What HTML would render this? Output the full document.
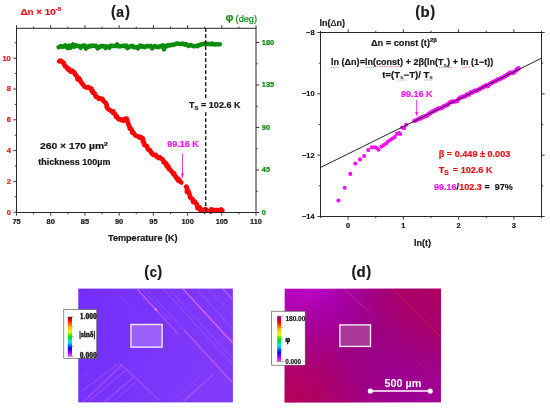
<!DOCTYPE html>
<html><head><meta charset="utf-8"><title>Figure</title>
<style>
html,body{margin:0;padding:0;background:#fff;}
svg{display:block}
text{font-family:"Liberation Sans", sans-serif;font-weight:bold;}
.ax{stroke:#262626;stroke-width:1;fill:none;stroke-linecap:butt}
.tk{stroke:#262626;stroke-width:0.9;fill:none}
.r{fill:#e8141c;stroke:#e8141c} .g{fill:#0f8a0f;stroke:#0f8a0f} .k{fill:#1a1a1a;stroke:#1a1a1a} .m{fill:#f218f2;stroke:#f218f2}
text,tspan{stroke-width:0.22px;stroke-linejoin:round}
.ser{font-family:"Liberation Serif", serif;}
</style></head><body>
<svg width="550" height="408" viewBox="0 0 550 408">
<defs>
<linearGradient id="rb" x1="0" y1="0" x2="0" y2="1">
<stop offset="0" stop-color="#7a0000"/><stop offset="0.08" stop-color="#ff0000"/><stop offset="0.25" stop-color="#ffb000"/><stop offset="0.38" stop-color="#e0ff00"/><stop offset="0.5" stop-color="#00e000"/><stop offset="0.65" stop-color="#00e0ff"/><stop offset="0.8" stop-color="#0000ff"/><stop offset="0.92" stop-color="#b000ff"/><stop offset="1" stop-color="#ff60ff"/>
</linearGradient>
<linearGradient id="cg" x1="0" y1="0" x2="1" y2="0.3"><stop offset="0" stop-color="#722dfc"/><stop offset="0.5" stop-color="#7934fb"/><stop offset="1" stop-color="#813afa"/></linearGradient>
<linearGradient id="rb2" x1="0" y1="0" x2="0" y2="1">
<stop offset="0" stop-color="#7a007a"/><stop offset="0.07" stop-color="#c00040"/><stop offset="0.14" stop-color="#ff0000"/><stop offset="0.28" stop-color="#ffb000"/><stop offset="0.4" stop-color="#e0ff00"/><stop offset="0.52" stop-color="#00e000"/><stop offset="0.66" stop-color="#00e0ff"/><stop offset="0.8" stop-color="#0000ff"/><stop offset="0.92" stop-color="#b000ff"/><stop offset="1" stop-color="#ff40ff"/>
</linearGradient>
<linearGradient id="dg" gradientUnits="userSpaceOnUse" x1="285" y1="289" x2="415" y2="428">
<stop offset="0" stop-color="#b200bc"/><stop offset="0.1" stop-color="#b804c4"/><stop offset="0.24" stop-color="#a800ac"/><stop offset="0.5" stop-color="#96008c"/><stop offset="1" stop-color="#a00098"/>
</linearGradient>
<radialGradient id="dr1" gradientUnits="userSpaceOnUse" cx="270" cy="420" r="135">
<stop offset="0" stop-color="#bc0050" stop-opacity="1"/><stop offset="0.45" stop-color="#b4005e" stop-opacity="0.78"/><stop offset="1" stop-color="#a00080" stop-opacity="0"/>
</radialGradient>
<radialGradient id="dr2" gradientUnits="userSpaceOnUse" cx="452" cy="274" r="128">
<stop offset="0" stop-color="#b40058" stop-opacity="1"/><stop offset="0.5" stop-color="#a80066" stop-opacity="0.78"/><stop offset="1" stop-color="#a00080" stop-opacity="0"/>
</radialGradient>
<clipPath id="cc"><rect x="78.3" y="288.6" width="154.6" height="113.8"/></clipPath>
<clipPath id="cd"><rect x="284.7" y="288.7" width="156.2" height="113.7"/></clipPath>
<filter id="bl" x="-5%" y="-5%" width="110%" height="110%"><feGaussianBlur stdDeviation="0.55"/></filter>
</defs>
<rect width="550" height="408" fill="#fff"/>

<g id="plotA">
<polyline fill="none" stroke="#0c8c0c" stroke-width="4.5" stroke-linecap="round" stroke-linejoin="round" points="58.6,47.3 59.9,46.6 61.2,46.1 62.5,47.0 63.8,46.4 65.1,45.3 66.4,46.8 67.7,48.0 69.0,45.7 70.3,47.9 71.6,45.9 72.9,44.5 74.2,46.7 75.5,45.2 76.8,45.7 78.1,46.1 79.4,45.9 80.7,47.8 82.0,46.2 83.3,45.5 84.6,45.5 85.9,48.6 87.2,46.6 88.5,47.0 89.8,45.7 91.1,46.3 92.4,45.6 93.7,45.7 95.0,45.7 96.3,46.0 97.6,48.3 98.9,47.4 100.2,46.9 101.5,45.9 102.8,45.9 104.1,46.2 105.4,48.1 106.7,46.4 108.0,46.8 109.3,47.8 110.6,45.7 111.9,45.7 113.2,46.1 114.5,46.0 115.8,46.1 117.1,44.3 118.4,46.2 119.7,46.4 121.0,46.2 122.3,46.1 123.6,45.7 124.9,46.3 126.2,45.6 127.5,48.1 128.8,47.2 130.1,46.2 131.4,46.4 132.7,45.9 134.0,47.4 135.3,47.1 136.6,47.2 137.9,48.3 139.2,46.3 140.5,45.5 141.8,46.7 143.1,46.2 144.4,47.2 145.7,46.6 147.0,45.9 148.3,46.3 149.6,46.1 150.9,46.0 152.2,48.3 153.5,47.0 154.8,46.1 156.1,46.5 157.4,47.1 158.7,47.0 160.0,46.2 161.3,46.2 162.6,45.3 163.9,49.4 165.2,45.8 166.5,46.3 167.8,45.2 169.1,45.6 170.4,45.0 171.7,44.8 173.0,44.9 174.3,44.5 175.6,44.1 176.9,43.5 178.2,43.6 179.5,43.9 180.8,44.1 182.1,43.6 183.4,43.8 184.7,44.7 186.0,44.1 187.3,45.0 188.6,46.0 189.9,45.1 191.2,45.1 192.5,45.9 193.8,46.2 195.1,46.1 196.4,46.0 197.7,46.0 199.0,44.9 200.3,45.0 201.6,44.3 202.9,44.0 204.2,43.6 205.5,44.2 206.8,44.1 208.1,43.8 209.4,44.1 210.7,44.3 212.0,43.6 213.3,44.3 214.6,44.5 215.9,44.2 217.2,44.3 218.5,44.4 219.8,44.3"/>
<polyline fill="none" stroke="#fa0505" stroke-width="4.7" stroke-linecap="round" stroke-linejoin="round" points="59.2,61.3 59.6,60.9 60.9,60.7 62.1,61.8 63.6,62.7 63.9,64.4 64.6,64.9 64.7,66.0 66.3,66.9 66.8,67.3 67.7,69.3 68.6,68.7 70.6,71.6 70.9,71.2 72.2,70.7 73.3,72.3 74.4,72.4 75.3,74.8 76.2,75.2 77.3,77.2 77.6,79.3 78.8,78.0 79.1,80.0 79.7,79.0 80.5,81.7 81.1,81.9 81.8,83.6 82.6,84.1 82.9,84.3 84.4,86.5 85.1,87.0 86.8,87.6 88.0,87.1 88.7,87.2 89.9,88.2 91.4,88.6 91.5,90.7 92.6,90.7 92.8,92.8 94.5,93.1 95.5,95.0 95.2,95.2 95.9,96.7 96.2,96.8 98.5,97.6 98.7,98.8 100.8,98.6 101.4,98.8 102.3,98.8 103.5,101.1 104.9,102.2 105.5,102.5 105.9,103.7 106.6,104.8 106.8,107.4 107.3,107.3 107.2,108.0 109.1,109.7 110.2,110.3 111.5,111.2 113.3,111.4 113.0,113.0 114.1,113.0 115.3,114.5 115.8,115.7 116.0,116.7 116.8,116.4 118.6,119.4 119.3,119.4 121.2,119.3 121.1,120.1 123.4,120.7 124.4,119.1 125.0,118.7 126.7,118.6 127.1,120.5 127.4,121.5 128.3,123.5 128.6,125.1 129.1,125.2 129.3,126.0 129.8,128.6 130.3,129.1 130.9,128.7 131.5,129.9 132.8,131.6 132.1,132.6 133.5,132.9 133.9,133.1 135.4,135.7 136.7,135.9 137.5,136.0 138.9,137.1 139.9,137.6 140.6,137.0 142.8,138.2 143.2,139.4 142.7,141.4 143.7,142.2 144.1,142.6 144.2,144.9 144.6,145.1 146.0,145.6 147.2,146.4 147.5,148.2 148.3,149.6 149.3,150.1 150.1,150.1 150.7,152.1 152.1,153.9 152.4,153.3 153.4,154.9 155.3,155.6 156.0,155.0 156.7,156.8 158.1,157.0 158.7,158.0 159.9,157.4 161.2,158.6 162.3,159.1 163.6,160.9 163.6,162.5 164.6,162.1 165.8,162.9 166.3,165.5 167.3,165.0 167.5,167.0 168.7,167.0 168.8,168.8 170.8,170.4 171.6,171.6 172.8,172.4 172.9,172.9 173.4,174.1 174.2,173.5 174.6,175.2 175.7,176.8 176.5,177.0 176.7,178.6 177.4,178.4 178.2,180.5 179.1,179.4 180.1,181.6 181.3,182.4"/>
<polyline fill="none" stroke="#fa0505" stroke-width="4.7" stroke-linecap="round" stroke-linejoin="round" points="186.0,186.8 186.4,186.6 187.1,188.7 187.1,190.1 186.8,191.9 188.3,190.9 189.1,193.3 189.7,195.2 190.1,195.9 190.0,197.1 190.7,197.9 191.7,198.5 192.7,199.5 193.2,202.0 194.7,201.4 194.8,202.1 196.3,203.7 196.4,203.6 197.1,205.5 197.5,208.1 198.6,207.0 198.7,207.9 199.7,207.5 199.9,209.5 201.3,210.1 202.9,209.9 204.3,211.0 205.3,209.1 206.6,210.0"/>
<polyline fill="none" stroke="#fa0505" stroke-width="4.7" stroke-linecap="round" stroke-linejoin="round" points="210.4,211.6 211.1,209.3 212.5,210.7 213.7,209.9 215.1,210.3 216.8,210.0 217.5,210.3 219.8,210.4 220.9,209.4 222.3,210.4"/>
<line x1="205.7" y1="28.3" x2="205.7" y2="212.5" stroke="#1a1a1a" stroke-width="1.4" stroke-dasharray="3.8 2.2"/>
<rect x="188" y="99" width="54" height="12.5" fill="#fff"/>
<rect class="ax" x="16.5" y="28.3" width="239.5" height="184.2"/>
<path class="tk" d="M16.50 212.5v3.2M16.50 28.3v-3.2M33.61 212.5v1.7M33.61 28.3v-1.7M50.71 212.5v3.2M50.71 28.3v-3.2M67.82 212.5v1.7M67.82 28.3v-1.7M84.93 212.5v3.2M84.93 28.3v-3.2M102.04 212.5v1.7M102.04 28.3v-1.7M119.14 212.5v3.2M119.14 28.3v-3.2M136.25 212.5v1.7M136.25 28.3v-1.7M153.36 212.5v3.2M153.36 28.3v-3.2M170.46 212.5v1.7M170.46 28.3v-1.7M187.57 212.5v3.2M187.57 28.3v-3.2M204.68 212.5v1.7M204.68 28.3v-1.7M221.79 212.5v3.2M221.79 28.3v-3.2M238.89 212.5v1.7M238.89 28.3v-1.7M256.00 212.5v3.2M256.00 28.3v-3.2M16.5 212.20h-3.2M16.5 196.80h-1.7M16.5 181.40h-3.2M16.5 166.00h-1.7M16.5 150.60h-3.2M16.5 135.20h-1.7M16.5 119.80h-3.2M16.5 104.40h-1.7M16.5 89.00h-3.2M16.5 73.60h-1.7M16.5 58.20h-3.2M16.5 42.80h-1.7M256 212.50h3.2M256 191.25h1.7M256 170.00h3.2M256 148.75h1.7M256 127.50h3.2M256 106.25h1.7M256 85.00h3.2M256 63.75h1.7M256 42.50h3.2"/>
<text class="k" x="16.5" y="224" font-size="7.4" text-anchor="middle">75</text>
<text class="k" x="50.7" y="224" font-size="7.4" text-anchor="middle">80</text>
<text class="k" x="84.9" y="224" font-size="7.4" text-anchor="middle">85</text>
<text class="k" x="119.1" y="224" font-size="7.4" text-anchor="middle">90</text>
<text class="k" x="153.4" y="224" font-size="7.4" text-anchor="middle">95</text>
<text class="k" x="187.6" y="224" font-size="7.4" text-anchor="middle">100</text>
<text class="k" x="221.8" y="224" font-size="7.4" text-anchor="middle">105</text>
<text class="k" x="256.0" y="224" font-size="7.4" text-anchor="middle">110</text>
<text class="r" x="10.8" y="214.5" font-size="7.5" text-anchor="end">0</text>
<text class="r" x="10.8" y="183.7" font-size="7.5" text-anchor="end">2</text>
<text class="r" x="10.8" y="152.9" font-size="7.5" text-anchor="end">4</text>
<text class="r" x="10.8" y="122.1" font-size="7.5" text-anchor="end">6</text>
<text class="r" x="10.8" y="91.3" font-size="7.5" text-anchor="end">8</text>
<text class="r" x="10.8" y="60.5" font-size="7.5" text-anchor="end">10</text>
<text class="g" x="261.8" y="214.8" font-size="7.4">0</text>
<text class="g" x="261.8" y="172.3" font-size="7.4">45</text>
<text class="g" x="261.8" y="129.8" font-size="7.4">90</text>
<text class="g" x="261.8" y="87.3" font-size="7.4">135</text>
<text class="g" x="261.8" y="44.8" font-size="7.4">180</text>
<text class="k" x="108" y="241" font-size="9.1" textLength="69.6" lengthAdjust="spacingAndGlyphs">Temperature (K)</text>
<text class="r" x="20.4" y="14.8" font-size="9.4" textLength="41" lengthAdjust="spacingAndGlyphs">Δn × 10<tspan font-size="6" dy="-3.6">-5</tspan></text>
<text class="k" x="110.9" y="17.0" font-size="16.6" textLength="4.9" lengthAdjust="spacingAndGlyphs">(</text><text class="k" x="116.15" y="16.9" font-size="15" textLength="7.7" lengthAdjust="spacingAndGlyphs">a</text><text class="k" x="124.9" y="17.0" font-size="16.6" textLength="4.9" lengthAdjust="spacingAndGlyphs">)</text>
<text class="g" x="225.4" y="21.4" font-size="11">φ</text><text class="g" x="235.6" y="21.6" font-size="9.2" font-weight="normal" style="font-weight:normal">(deg)</text>
<text class="k" x="189.1" y="108.2" font-size="9">T<tspan font-size="6" dy="1.8">S</tspan><tspan dy="-1.8"> = 102.6 K</tspan></text>
<text class="m" x="183" y="146.6" font-size="9" text-anchor="middle">99.16 K</text>
<path d="M182.5 153.3V175" stroke="#e636c4" stroke-width="0.9" fill="none"/><path d="M180.8 173.4L182.5 178.3L184.2 173.4Z" fill="#e636c4"/>
<text class="k" x="40" y="149.2" font-size="9.2" textLength="67.8" lengthAdjust="spacingAndGlyphs">260 × 170 µm<tspan font-size="6" dy="-3.6">2</tspan></text>
<text class="k" x="38.2" y="165" font-size="9">thickness 100µm</text>
</g>
<g id="plotB">
<g fill="#fa0efa"><circle cx="338.4" cy="200.5" r="2.05"/><circle cx="344.6" cy="187.7" r="2.05"/><circle cx="350.3" cy="173.9" r="2.05"/><circle cx="355.3" cy="163.6" r="2.05"/><circle cx="360.0" cy="159.4" r="2.05"/><circle cx="364.1" cy="156.1" r="2.05"/><circle cx="368.2" cy="150.1" r="2.05"/><circle cx="371.9" cy="147.4" r="2.05"/><circle cx="374.9" cy="147.2" r="2.05"/><circle cx="376.8" cy="148.1" r="2.05"/><circle cx="378.5" cy="149.8" r="2.05"/><circle cx="381.5" cy="146.6" r="2.05"/><circle cx="383.7" cy="145.1" r="2.05"/><circle cx="385.9" cy="143.7" r="2.05"/><circle cx="388.1" cy="141.6" r="2.05"/><circle cx="390.3" cy="140.0" r="2.05"/><circle cx="392.5" cy="138.5" r="2.05"/><circle cx="394.7" cy="137.1" r="2.05"/><circle cx="396.9" cy="133.9" r="2.05"/><circle cx="399.1" cy="133.0" r="2.05"/><circle cx="400.3" cy="134.0" r="2.05"/><circle cx="402.1" cy="127.6" r="2.05"/><circle cx="404.3" cy="128.1" r="2.05"/><circle cx="406.2" cy="124.7" r="2.05"/><circle cx="414.5" cy="121.0" r="2.35"/><circle cx="416.6" cy="120.1" r="2.35"/><circle cx="418.7" cy="118.9" r="2.35"/><circle cx="420.9" cy="118.2" r="2.35"/><circle cx="422.6" cy="117.1" r="2.35"/><circle cx="424.6" cy="116.3" r="2.35"/><circle cx="426.5" cy="115.9" r="2.35"/><circle cx="428.4" cy="114.3" r="2.35"/><circle cx="430.3" cy="113.1" r="2.35"/><circle cx="432.1" cy="111.7" r="2.35"/><circle cx="433.9" cy="111.1" r="2.35"/><circle cx="435.9" cy="109.9" r="2.35"/><circle cx="438.0" cy="108.7" r="2.35"/><circle cx="439.6" cy="108.5" r="2.35"/><circle cx="441.7" cy="107.9" r="2.35"/><circle cx="443.8" cy="106.3" r="2.35"/><circle cx="445.8" cy="105.6" r="2.35"/><circle cx="447.7" cy="104.7" r="2.35"/><circle cx="449.7" cy="102.5" r="2.35"/><circle cx="451.5" cy="101.9" r="2.35"/><circle cx="453.2" cy="101.6" r="2.35"/><circle cx="455.2" cy="101.5" r="2.35"/><circle cx="457.2" cy="100.9" r="2.35"/><circle cx="459.0" cy="98.5" r="2.35"/><circle cx="461.1" cy="97.4" r="2.35"/><circle cx="463.2" cy="96.6" r="2.35"/><circle cx="465.1" cy="96.5" r="2.35"/><circle cx="466.8" cy="94.5" r="2.35"/><circle cx="468.9" cy="94.6" r="2.35"/><circle cx="470.9" cy="92.3" r="2.35"/><circle cx="472.7" cy="92.3" r="2.35"/><circle cx="474.6" cy="90.8" r="2.35"/><circle cx="476.6" cy="90.7" r="2.35"/><circle cx="478.8" cy="89.6" r="2.35"/><circle cx="481.0" cy="88.3" r="2.35"/><circle cx="482.7" cy="87.4" r="2.35"/><circle cx="484.6" cy="86.3" r="2.35"/><circle cx="486.2" cy="85.3" r="2.35"/><circle cx="487.9" cy="86.1" r="2.35"/><circle cx="490.1" cy="83.8" r="2.35"/><circle cx="491.9" cy="82.8" r="2.35"/><circle cx="493.5" cy="81.8" r="2.35"/><circle cx="495.6" cy="81.2" r="2.35"/><circle cx="497.5" cy="79.5" r="2.35"/><circle cx="499.3" cy="79.3" r="2.35"/><circle cx="501.3" cy="78.2" r="2.35"/><circle cx="503.5" cy="77.2" r="2.35"/><circle cx="505.2" cy="76.0" r="2.35"/><circle cx="507.2" cy="74.9" r="2.35"/><circle cx="509.0" cy="73.7" r="2.35"/><circle cx="510.8" cy="72.7" r="2.35"/><circle cx="512.7" cy="73.0" r="2.35"/><circle cx="514.6" cy="71.8" r="2.35"/><circle cx="516.7" cy="69.7" r="2.35"/><circle cx="518.6" cy="68.4" r="2.35"/></g>
<line x1="320.5" y1="167.5" x2="541.5" y2="58.2" stroke="#161616" stroke-width="0.95"/>
<rect class="ax" x="320.5" y="32.5" width="221.0" height="184.0"/>
<path class="tk" d="M320.50 216.5v1.7M320.50 32.5v-1.7M348.12 216.5v3.2M348.12 32.5v-3.2M375.75 216.5v1.7M375.75 32.5v-1.7M403.38 216.5v3.2M403.38 32.5v-3.2M431.00 216.5v1.7M431.00 32.5v-1.7M458.62 216.5v3.2M458.62 32.5v-3.2M486.25 216.5v1.7M486.25 32.5v-1.7M513.88 216.5v3.2M513.88 32.5v-3.2M541.50 216.5v1.7M541.50 32.5v-1.7M320.5 32.50h-3.2M541.5 32.50h3.2M320.5 63.17h-1.7M541.5 63.17h1.7M320.5 93.83h-3.2M541.5 93.83h3.2M320.5 124.50h-1.7M541.5 124.50h1.7M320.5 155.17h-3.2M541.5 155.17h3.2M320.5 185.83h-1.7M541.5 185.83h1.7M320.5 216.50h-3.2M541.5 216.50h3.2"/>
<text class="k" x="348.1" y="228.3" font-size="7.4" text-anchor="middle">0</text>
<text class="k" x="403.4" y="228.3" font-size="7.4" text-anchor="middle">1</text>
<text class="k" x="458.6" y="228.3" font-size="7.4" text-anchor="middle">2</text>
<text class="k" x="513.9" y="228.3" font-size="7.4" text-anchor="middle">3</text>
<text class="k" x="314.5" y="35.0" font-size="7.4" text-anchor="end">−8</text>
<text class="k" x="314.5" y="96.3" font-size="7.4" text-anchor="end">−10</text>
<text class="k" x="314.5" y="157.7" font-size="7.4" text-anchor="end">−12</text>
<text class="k" x="314.5" y="219.0" font-size="7.4" text-anchor="end">−14</text>
<text class="k" x="422.4" y="246" font-size="9" text-anchor="middle">ln(t)</text>
<text class="k" x="319.6" y="25.6" font-size="9">ln(<tspan font-weight="normal">Δ</tspan>n)</text>
<text class="k" x="415.2" y="17.0" font-size="16.6" textLength="4.9" lengthAdjust="spacingAndGlyphs">(</text><text class="k" x="420.4" y="16.9" font-size="15">b</text><text class="k" x="430.3" y="17.0" font-size="16.6" textLength="4.9" lengthAdjust="spacingAndGlyphs">)</text>
<text class="k" x="370.9" y="45.6" font-size="9" textLength="66" lengthAdjust="spacingAndGlyphs">Δn = const (t)<tspan font-size="5.8" dy="-3.4">2β</tspan></text>
<text class="k" x="331" y="65.2" font-size="9" textLength="162.4" lengthAdjust="spacingAndGlyphs">ln (Δn)=ln(const) + 2β(ln(T<tspan font-size="6.2" dy="1.6" style="stroke-width:0">s</tspan><tspan dy="-1.6">) + ln (1−t))</tspan></text>
<text class="k" x="382.3" y="77.6" font-size="9" textLength="50.6" lengthAdjust="spacingAndGlyphs">t=(T<tspan font-size="6.2" dy="1.6" style="stroke-width:0">s</tspan><tspan dy="-1.6">−T)/ T</tspan><tspan font-size="6.2" dy="1.6" style="stroke-width:0">s</tspan></text>
<line x1="331" y1="67.3" x2="339" y2="67.3" stroke="#f05050" stroke-width="0.8" stroke-dasharray="1 0.8"/>
<line x1="365.5" y1="67.3" x2="374" y2="67.3" stroke="#f05050" stroke-width="0.8" stroke-dasharray="1 0.8"/>
<line x1="375" y1="66.6" x2="402" y2="66.6" stroke="#f05050" stroke-width="0.8" stroke-dasharray="1 0.8"/>
<line x1="439" y1="67.6" x2="452" y2="67.6" stroke="#f05050" stroke-width="0.8" stroke-dasharray="1 0.8"/>
<line x1="462" y1="67.3" x2="470" y2="67.3" stroke="#f05050" stroke-width="0.8" stroke-dasharray="1 0.8"/>
<line x1="398" y1="80" x2="407" y2="80" stroke="#f05050" stroke-width="0.8" stroke-dasharray="1 0.8"/>
<line x1="424" y1="80" x2="433" y2="80" stroke="#f05050" stroke-width="0.8" stroke-dasharray="1 0.8"/>
<text class="m" x="416.8" y="96.8" font-size="9" text-anchor="middle">99.16 K</text>
<path d="M416.7 100V114" stroke="#f218f2" stroke-width="0.9" fill="none"/><path d="M415.1 112L416.7 116.6L418.3 112Z" fill="#f218f2"/>
<text class="r" x="438.8" y="157" font-size="9.1">β = 0.449 ± 0.003</text>
<text class="r" x="438.8" y="173" font-size="9.1" xml:space="preserve">T<tspan font-size="6.6" dy="1.8">S</tspan><tspan dy="-1.8" x="452.8">= 102.6 K</tspan></text>
<text x="434" y="190.4" font-size="9" xml:space="preserve"><tspan class="m">99.16</tspan><tspan class="k">/</tspan><tspan class="r" dx="0.3">102.3</tspan><tspan class="k" x="484.6">=</tspan><tspan class="k" x="494.8">97%</tspan></text>
</g>
<g id="imgC">
<text class="k" x="144.3" y="277.0" font-size="16.6" textLength="4.9" lengthAdjust="spacingAndGlyphs">(</text><text class="k" x="149.7" y="276.9" font-size="15" textLength="7.1" lengthAdjust="spacingAndGlyphs">c</text><text class="k" x="157.2" y="277.0" font-size="16.6" textLength="4.9" lengthAdjust="spacingAndGlyphs">)</text>
<rect x="78.3" y="288.6" width="154.6" height="113.8" fill="url(#cg)"/>
<g clip-path="url(#cc)" filter="url(#bl)" fill="none" stroke-linecap="round">
<line x1="136.6" y1="288.6" x2="158.1" y2="312" stroke="#e468ee" stroke-width="1.3" stroke-opacity="0.75"/>
<line x1="158.06788990825686" y1="312" x2="178.3" y2="334" stroke="#d868f0" stroke-width="1.2" stroke-opacity="0.45"/>
<circle cx="155.7" cy="309.6" r="1.4" fill="#f488f0" fill-opacity="0.7" stroke="none"/>
<line x1="146.2" y1="288.6" x2="184.2" y2="330" stroke="#c470fa" stroke-width="1.0" stroke-opacity="0.35"/>
<line x1="184.18165137614676" y1="330" x2="233.7" y2="384" stroke="#e068f0" stroke-width="1.2" stroke-opacity="0.6"/>
<line x1="182.7" y1="288.6" x2="287.7" y2="403" stroke="#f070f0" stroke-width="1.4" stroke-opacity="0.8"/>
<line x1="141.6" y1="288.6" x2="170.4" y2="320" stroke="#c070ff" stroke-width="1.0" stroke-opacity="0.4"/>
<line x1="162.8" y1="288.6" x2="267.8" y2="403" stroke="#c070ff" stroke-width="1.0" stroke-opacity="0.4"/>
<line x1="168.5" y1="288.6" x2="273.5" y2="403" stroke="#b070ff" stroke-width="1.0" stroke-opacity="0.35"/>
<line x1="196" y1="288.6" x2="301.0" y2="403" stroke="#c070ff" stroke-width="1.0" stroke-opacity="0.4"/>
<line x1="208" y1="288.6" x2="313.0" y2="403" stroke="#b070ff" stroke-width="1.0" stroke-opacity="0.35"/>
<line x1="222.5" y1="288.6" x2="327.5" y2="403" stroke="#e070f0" stroke-width="1.2" stroke-opacity="0.65"/>
<line x1="116.6" y1="291.9" x2="150" y2="330" stroke="#9860ff" stroke-width="1.0" stroke-opacity="0.3"/>
<line x1="119.6" y1="363.4" x2="160.3" y2="401.2" stroke="#b868f8" stroke-width="1.1" stroke-opacity="0.5"/>
<line x1="126.9" y1="369.3" x2="150" y2="391" stroke="#a860f8" stroke-width="1.0" stroke-opacity="0.35"/>
<line x1="154.5" y1="351.8" x2="172" y2="369" stroke="#a060f8" stroke-width="1.0" stroke-opacity="0.3"/>
<line x1="81.8" y1="391" x2="116.7" y2="364.9" stroke="#c864f4" stroke-width="1.1" stroke-opacity="0.4"/>
<line x1="82.6" y1="402.4" x2="122" y2="365" stroke="#d868f0" stroke-width="1.2" stroke-opacity="0.5"/>
<line x1="89.1" y1="401.2" x2="126.9" y2="369.3" stroke="#c864f4" stroke-width="1.1" stroke-opacity="0.4"/>
<line x1="105" y1="401.2" x2="132.7" y2="378" stroke="#d868f0" stroke-width="1.2" stroke-opacity="0.45"/>
<line x1="112.4" y1="402.4" x2="136" y2="382" stroke="#b860f8" stroke-width="1.0" stroke-opacity="0.45"/>
<line x1="79" y1="381" x2="92" y2="370" stroke="#a860f8" stroke-width="1.0" stroke-opacity="0.3"/>
<line x1="183.6" y1="401.2" x2="212.6" y2="375" stroke="#c868f0" stroke-width="1.2" stroke-opacity="0.55"/>
<line x1="170" y1="403" x2="200" y2="376" stroke="#a860f8" stroke-width="1.0" stroke-opacity="0.3"/>
</g>
<rect x="131" y="324.5" width="31.1" height="22.6" fill="#9b5ffc" stroke="#f3e8fc" stroke-width="1.4"/>
<rect x="63.8" y="309.4" width="33" height="49" fill="#fff" stroke="#444" stroke-width="0.6"/>
<rect x="67.8" y="317" width="4.2" height="39.3" fill="url(#rb)"/>
<path d="M67.4 316.9h6.4M67.4 356.4h6.4M72 326.8h1.6M72 336.6h1.6M72 346.5h1.6" stroke="#555" stroke-width="0.5" fill="none"/>
<text class="k ser" x="79.8" y="318.7" font-size="7.5" style="stroke-width:0.4px">1.000</text>
<text class="k ser" x="79.3" y="336.5" font-size="7.3" textLength="15.8" lengthAdjust="spacingAndGlyphs" style="stroke-width:0.4px">|sinδ|</text>
<text class="k ser" x="79.8" y="357.5" font-size="7.5" style="stroke-width:0.4px">0.000</text>
</g>
<g id="imgD">
<text class="k" x="351.5" y="277.0" font-size="16.6" textLength="4.9" lengthAdjust="spacingAndGlyphs">(</text><text class="k" x="356.6" y="276.9" font-size="15">d</text><text class="k" x="366.2" y="277.0" font-size="16.6" textLength="4.9" lengthAdjust="spacingAndGlyphs">)</text>
<rect x="284.7" y="288.7" width="156.2" height="113.7" fill="url(#dg)"/>
<rect x="284.7" y="288.7" width="156.2" height="113.7" fill="url(#dr1)"/>
<rect x="284.7" y="288.7" width="156.2" height="113.7" fill="url(#dr2)"/>
<g clip-path="url(#cd)" filter="url(#bl)" fill="none">
<line x1="393.9" y1="288.9" x2="440.9" y2="337.3" stroke="#dc1040" stroke-width="1.2" stroke-opacity="0.6"/>
<line x1="404" y1="289" x2="440.9" y2="327" stroke="#d01050" stroke-width="1.0" stroke-opacity="0.45"/>
<line x1="421.5" y1="315" x2="440.9" y2="335" stroke="#700050" stroke-width="1.0" stroke-opacity="0.35"/>
<line x1="344.5" y1="288.9" x2="369.2" y2="312.2" stroke="#c848d0" stroke-width="1.1" stroke-opacity="0.4"/>
<line x1="369.2" y1="312.2" x2="441.5" y2="386" stroke="#b828c8" stroke-width="0.9" stroke-opacity="0.25"/>
<line x1="352" y1="288" x2="441.5" y2="380" stroke="#c82098" stroke-width="0.8" stroke-opacity="0.3"/>
<line x1="284" y1="398" x2="330" y2="356" stroke="#d01050" stroke-width="0.8" stroke-opacity="0.35"/>
<line x1="290" y1="403" x2="338" y2="360" stroke="#d01050" stroke-width="0.8" stroke-opacity="0.3"/>
<line x1="320" y1="403" x2="352" y2="374" stroke="#a030c0" stroke-width="0.8" stroke-opacity="0.3"/>
</g>
<rect x="339.8" y="324.9" width="30.7" height="21.5" fill="#a83796" stroke="#f6eaf6" stroke-width="1.4"/>
<rect x="271.7" y="311.2" width="33.5" height="54" fill="#fff" stroke="#444" stroke-width="0.6"/>
<rect x="277.2" y="316.3" width="3.9" height="45.1" fill="url(#rb2)"/>
<path d="M276.8 316.2h7M276.8 361.5h7M281.1 327.5h1.5M281.1 338.8h1.5M281.1 350h1.5" stroke="#555" stroke-width="0.5" fill="none"/>
<text class="k" x="285.4" y="320.5" font-size="7.2" textLength="19.9" lengthAdjust="spacingAndGlyphs">180.00</text>
<text class="k" x="285.2" y="342.4" font-size="6.8" style="stroke-width:0.5px">φ</text>
<text class="k" x="285.2" y="363.8" font-size="7.2" textLength="15.8" lengthAdjust="spacingAndGlyphs">0.000</text>
<line x1="370.4" y1="391" x2="430.2" y2="391" stroke="#fff" stroke-width="1.3"/>
<circle cx="370.4" cy="391" r="2.6" fill="#fff"/><circle cx="430.2" cy="391" r="2.6" fill="#fff"/>
<text x="384.4" y="386.6" font-size="10.8" fill="#fff" textLength="37" lengthAdjust="spacingAndGlyphs">500 µm</text>
</g>
</svg></body></html>
